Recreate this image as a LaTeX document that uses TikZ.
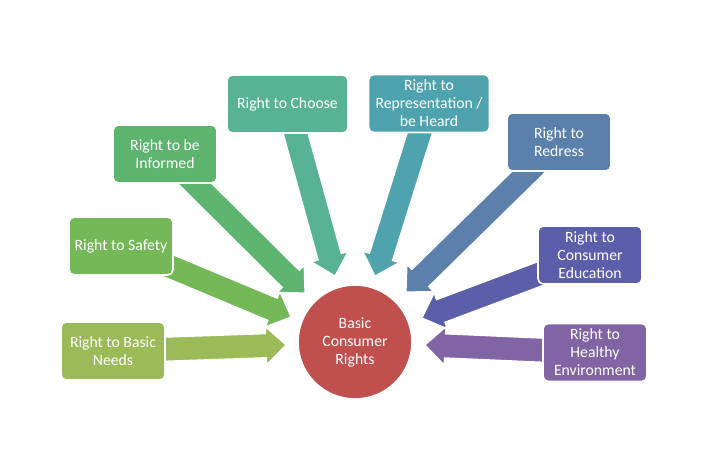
\documentclass[tikz,border=0pt]{standalone}
\usepackage{fontspec}
\setmainfont{Carlito}
\usetikzlibrary{calc,backgrounds}
\definecolor{cA}{HTML}{9BBB59}
\definecolor{cB}{HTML}{74B857}
\definecolor{cC}{HTML}{5CB46E}
\definecolor{cD}{HTML}{57B394}
\definecolor{cE}{HTML}{4EA3AE}
\definecolor{cF}{HTML}{5A80AB}
\definecolor{cG}{HTML}{5B5EA8}
\definecolor{cH}{HTML}{8064A4}
\definecolor{cR}{HTML}{C0504D}
\tikzset{
  rbox/.style={draw=white, line width=1.2pt, rounded corners=4pt,
    minimum width=78pt, minimum height=43.5pt, text=white, align=center,
    font=\fontsize{11.8}{13.5}\selectfont, inner sep=2pt},
  wbox/.style={rbox, minimum width=90.75pt},
  hub/.style={circle, draw=white, line width=1.2pt, fill=cR, minimum size=85.5pt,
    text=white, align=center, font=\fontsize{11.8}{13.5}\selectfont, inner sep=0pt},
  blk/.style={draw=white, line width=0.9pt, line join=miter}
}
\newcommand\blockarr[3]{%
  \coordinate (hh) at ($(#2)!15pt!(#1)$);
  \filldraw[blk, fill=#3]
    ($(#1)!9pt!90:(#2)$) -- ($(hh)!9pt!90:(#2)$) -- ($(hh)!14.25pt!90:(#2)$)
    -- (#2) -- ($(hh)!14.25pt!-90:(#2)$) -- ($(hh)!9pt!-90:(#2)$)
    -- ($(#1)!9pt!-90:(#2)$) -- cycle;
}
\begin{document}
\begin{tikzpicture}[x=0.75pt, y=-0.75pt]
  \useasboundingbox (0,0) rectangle (711,449);
  \node[rbox, fill=cA] (b1) at (113,351) {Right to Basic\\Needs};
  \node[rbox, fill=cB] (b2) at (121,246) {Right to Safety};
  \node[rbox, fill=cC] (b3) at (165,154) {Right to be\\Informed};
  \node[wbox, fill=cD] (b4) at (287.5,104) {Right to Choose};
  \node[wbox, fill=cE] (b5) at (429,103.5) {Right to\\Representation /\\be Heard};
  \node[rbox, fill=cF] (b6) at (559,142) {Right to\\Redress};
  \node[rbox, fill=cG] (b7) at (590,255) {Right to\\Consumer\\Education};
  \node[rbox, fill=cH] (b8) at (595,352.5) {Right to\\Healthy\\Environment};
  \node[hub] (hub) at (355,342) {Basic\\Consumer\\Rights};
  \coordinate (t1) at (286,345);
  \coordinate (t2) at (291,317);
  \coordinate (t3) at (305,293);
  \coordinate (t4) at (335,276);
  \coordinate (t5) at (375,276);
  \coordinate (t6) at (406,292);
  \coordinate (t7) at (422,318);
  \coordinate (t8) at (425,345);
  \begin{pgfonlayer}{background}
    \fill[white] (0,0) rectangle (711,449);
    \blockarr{b1.center}{t1}{cA}
    \blockarr{b2.center}{t2}{cB}
    \blockarr{b3.center}{t3}{cC}
    \blockarr{b4.center}{t4}{cD}
    \blockarr{b5.center}{t5}{cE}
    \blockarr{b6.center}{t6}{cF}
    \blockarr{b7.center}{t7}{cG}
    \blockarr{b8.center}{t8}{cH}
  \end{pgfonlayer}
\end{tikzpicture}
\end{document}
